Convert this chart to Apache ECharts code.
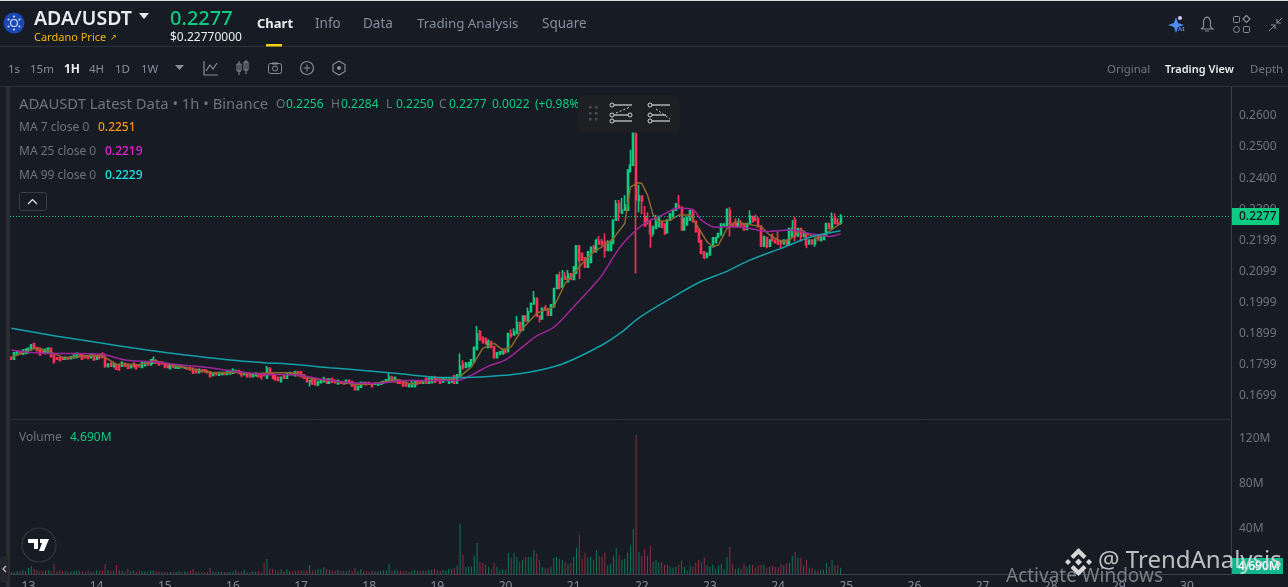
<!DOCTYPE html>
<html><head><meta charset="utf-8">
<style>html,body{margin:0;padding:0;background:#171B24;overflow:hidden}#c{width:1288px;height:587px}</style>
<script src="https://cdn.jsdelivr.net/npm/echarts@6/dist/echarts.min.js"></script>
</head><body><div id="c"></div>
<script>
// one row per hour: open, close, low, high
const candles = [
[.1823,.1817,.1815,.1825],[.1817,.1838,.1816,.1840],[.1831,.1841,.1830,.1843],[.1841,.1834,.1832,.1843],[.1833,.1847,.1832,.1849],
[.1836,.1849,.1835,.1851],[.1838,.1852,.1837,.1855],[.1847,.1863,.1846,.1866],[.1868,.1852,.1851,.1869],[.1855,.1845,.1843,.1856],
[.1852,.1831,.1830,.1853],[.1845,.1838,.1836,.1846],[.1836,.1849,.1834,.1850],[.1839,.1852,.1838,.1856],[.1852,.1825,.1824,.1853],
[.1831,.1809,.1803,.1832],[.1822,.1817,.1815,.1823],[.1823,.1813,.1810,.1824],[.1822,.1817,.1816,.1823],[.1817,.1823,.1816,.1824],
[.1823,.1818,.1817,.1824],[.1819,.1825,.1818,.1826],[.1822,.1831,.1821,.1832],[.1823,.1836,.1822,.1838],[.1833,.1825,.1824,.1835],
[.1833,.1817,.1816,.1834],[.1828,.1822,.1820,.1830],[.1828,.1820,.1818,.1830],[.1822,.1831,.1821,.1833],[.1831,.1815,.1814,.1832],
[.1817,.1828,.1816,.1829],[.1831,.1820,.1819,.1833],[.1834,.1823,.1822,.1840],[.1823,.1793,.1792,.1836],[.1793,.1802,.1791,.1804],
[.1804,.1795,.1793,.1806],[.1793,.1802,.1792,.1806],[.1799,.1785,.1784,.1801],[.1799,.1783,.1782,.1804],[.1795,.1806,.1794,.1811],
[.1804,.1795,.1794,.1806],[.1802,.1788,.1786,.1803],[.1790,.1799,.1789,.1801],[.1804,.1793,.1792,.1806],[.1799,.1787,.1786,.1801],
[.1799,.1793,.1791,.1800],[.1791,.1806,.1790,.1808],[.1796,.1806,.1795,.1807],[.1806,.1799,.1797,.1808],[.1799,.1815,.1798,.1817],
[.1804,.1817,.1803,.1826],[.1813,.1804,.1803,.1817],[.1809,.1799,.1798,.1811],[.1808,.1802,.1801,.1809],[.1804,.1791,.1790,.1805],
[.1802,.1791,.1789,.1804],[.1787,.1798,.1786,.1800],[.1799,.1791,.1790,.1800],[.1788,.1795,.1787,.1796],[.1788,.1795,.1787,.1797],
[.1795,.1791,.1790,.1796],[.1788,.1791,.1787,.1792],[.1790,.1786,.1785,.1791],[.1790,.1783,.1782,.1792],[.1788,.1772,.1771,.1790],
[.1785,.1774,.1773,.1786],[.1774,.1785,.1773,.1787],[.1783,.1777,.1776,.1784],[.1783,.1777,.1776,.1785],[.1780,.1774,.1773,.1782],
[.1777,.1761,.1760,.1779],[.1765,.1772,.1764,.1773],[.1774,.1767,.1766,.1776],[.1766,.1774,.1765,.1775],[.1768,.1774,.1767,.1775],
[.1774,.1768,.1767,.1775],[.1768,.1777,.1767,.1778],[.1770,.1781,.1769,.1782],[.1772,.1783,.1771,.1788],[.1777,.1781,.1776,.1783],
[.1781,.1772,.1771,.1783],[.1777,.1767,.1759,.1779],[.1767,.1774,.1766,.1776],[.1772,.1761,.1760,.1774],[.1770,.1761,.1760,.1771],
[.1761,.1770,.1760,.1771],[.1764,.1772,.1763,.1775],[.1767,.1761,.1760,.1769],[.1767,.1759,.1751,.1769],[.1770,.1764,.1763,.1772],
[.1756,.1788,.1755,.1796],[.1788,.1767,.1766,.1791],[.1772,.1756,.1753,.1774],[.1764,.1751,.1750,.1766],[.1759,.1749,.1748,.1760],
[.1745,.1759,.1744,.1760],[.1767,.1756,.1755,.1768],[.1756,.1772,.1755,.1774],[.1767,.1774,.1766,.1776],[.1772,.1767,.1766,.1775],
[.1764,.1777,.1763,.1780],[.1777,.1764,.1763,.1779],[.1777,.1761,.1760,.1779],[.1767,.1756,.1755,.1768],[.1756,.1745,.1744,.1758],
[.1745,.1748,.1729,.1751],[.1753,.1738,.1737,.1755],[.1751,.1735,.1734,.1753],[.1735,.1745,.1730,.1746],[.1742,.1751,.1741,.1753],
[.1745,.1756,.1744,.1761],[.1753,.1740,.1739,.1755],[.1740,.1753,.1739,.1754],[.1753,.1743,.1742,.1758],[.1749,.1742,.1741,.1750],
[.1738,.1749,.1737,.1751],[.1745,.1740,.1738,.1747],[.1744,.1738,.1736,.1745],[.1740,.1749,.1739,.1750],[.1749,.1742,.1741,.1751],
[.1745,.1731,.1730,.1747],[.1735,.1719,.1717,.1740],[.1719,.1729,.1718,.1730],[.1727,.1743,.1726,.1745],[.1738,.1742,.1737,.1743],
[.1742,.1735,.1734,.1744],[.1742,.1737,.1736,.1743],[.1738,.1729,.1728,.1739],[.1737,.1740,.1736,.1741],[.1734,.1740,.1733,.1741],
[.1737,.1743,.1736,.1745],[.1740,.1745,.1739,.1747],[.1743,.1751,.1742,.1752],[.1745,.1759,.1744,.1772],[.1759,.1745,.1744,.1764],
[.1745,.1759,.1744,.1760],[.1751,.1740,.1739,.1753],[.1749,.1740,.1739,.1751],[.1745,.1731,.1730,.1747],[.1743,.1731,.1730,.1745],
[.1729,.1735,.1728,.1736],[.1729,.1740,.1728,.1751],[.1729,.1747,.1728,.1749],[.1747,.1737,.1736,.1748],[.1745,.1740,.1738,.1747],
[.1740,.1745,.1739,.1746],[.1756,.1740,.1739,.1758],[.1740,.1756,.1739,.1758],[.1742,.1759,.1741,.1760],[.1759,.1743,.1742,.1764],
[.1756,.1749,.1748,.1758],[.1753,.1740,.1739,.1755],[.1743,.1756,.1742,.1758],[.1749,.1753,.1748,.1755],[.1740,.1753,.1739,.1755],
[.1743,.1756,.1742,.1758],[.1764,.1740,.1739,.1766],[.1740,.1767,.1739,.1769],[.1761,.1795,.1760,.1836],[.1802,.1790,.1783,.1814],
[.1791,.1804,.1790,.1808],[.1793,.1806,.1792,.1808],[.1795,.1815,.1794,.1816],[.1809,.1855,.1808,.1859],[.1849,.1900,.1848,.1924],
[.1906,.1879,.1877,.1911],[.1888,.1870,.1868,.1890],[.1884,.1866,.1865,.1886],[.1855,.1874,.1854,.1881],[.1874,.1855,.1854,.1876],
[.1857,.1822,.1821,.1860],[.1822,.1838,.1821,.1840],[.1834,.1841,.1830,.1843],[.1834,.1849,.1833,.1851],[.1849,.1838,.1836,.1850],
[.1841,.1900,.1840,.1902],[.1898,.1892,.1884,.1913],[.1895,.1906,.1894,.1917],[.1900,.1935,.1899,.1957],[.1935,.1909,.1908,.1937],
[.1911,.1956,.1910,.1958],[.1956,.1940,.1938,.1958],[.1940,.1970,.1938,.1984],[.1970,.1997,.1969,.1999],[.1995,.2013,.1994,.2037],
[.2013,.1956,.1955,.2015],[.1956,.1947,.1935,.1958],[.1947,.1981,.1946,.1983],[.1983,.1976,.1975,.1992],[.1979,.1959,.1958,.1981],
[.1959,.1992,.1958,.1994],[.1986,.2045,.1985,.2047],[.2045,.2088,.2044,.2090],[.2086,.2045,.2044,.2099],[.2049,.2078,.2048,.2104],
[.2083,.2075,.2074,.2099],[.2067,.2091,.2066,.2104],[.2092,.2074,.2073,.2094],[.2074,.2115,.2073,.2117],[.2094,.2182,.2093,.2184],
[.2182,.2136,.2075,.2184],[.2158,.2136,.2135,.2160],[.2144,.2113,.2112,.2146],[.2113,.2163,.2112,.2165],[.2129,.2177,.2128,.2179],
[.2177,.2163,.2162,.2185],[.2163,.2199,.2162,.2205],[.2196,.2188,.2187,.2214],[.2196,.2185,.2184,.2205],[.2194,.2167,.2144,.2222],
[.2167,.2192,.2166,.2200],[.2167,.2194,.2166,.2196],[.2190,.2265,.2189,.2267],[.2265,.2317,.2264,.2330],[.2319,.2292,.2261,.2330],
[.2287,.2297,.2286,.2336],[.2297,.2313,.2296,.2345],[.2297,.2426,.2296,.2428],[.2421,.2442,.2420,.2491],[.2442,.2544,.2441,.2547],
[.2542,.2330,.2093,.2547],[.2327,.2342,.2290,.2378],[.2342,.2327,.2284,.2344],[.2276,.2246,.2245,.2310],[.2271,.2257,.2250,.2290],
[.2260,.2222,.2176,.2262],[.2222,.2244,.2212,.2246],[.2238,.2260,.2237,.2281],[.2244,.2276,.2243,.2278],[.2260,.2242,.2240,.2262],
[.2252,.2222,.2217,.2254],[.2224,.2265,.2223,.2267],[.2265,.2285,.2264,.2287],[.2276,.2299,.2275,.2301],[.2297,.2317,.2296,.2319],
[.2310,.2306,.2304,.2346],[.2306,.2233,.2232,.2308],[.2233,.2271,.2232,.2273],[.2249,.2274,.2248,.2276],[.2265,.2295,.2264,.2297],
[.2289,.2260,.2259,.2299],[.2260,.2228,.2227,.2262],[.2235,.2195,.2194,.2237],[.2199,.2158,.2157,.2201],[.2163,.2145,.2139,.2165],
[.2145,.2158,.2144,.2160],[.2153,.2179,.2152,.2181],[.2179,.2208,.2178,.2210],[.2192,.2209,.2191,.2211],[.2209,.2222,.2208,.2224],
[.2217,.2252,.2216,.2254],[.2246,.2252,.2245,.2254],[.2246,.2299,.2245,.2303],[.2295,.2244,.2212,.2306],[.2254,.2244,.2243,.2256],
[.2254,.2244,.2243,.2271],[.2244,.2254,.2243,.2271],[.2254,.2246,.2245,.2265],[.2254,.2233,.2232,.2256],[.2235,.2254,.2234,.2256],
[.2254,.2278,.2253,.2297],[.2276,.2260,.2259,.2278],[.2274,.2265,.2264,.2283],[.2271,.2244,.2243,.2273],[.2246,.2181,.2180,.2248],
[.2181,.2212,.2180,.2214],[.2209,.2179,.2174,.2211],[.2181,.2201,.2180,.2203],[.2217,.2199,.2198,.2222],[.2201,.2192,.2191,.2203],
[.2201,.2188,.2187,.2228],[.2199,.2190,.2174,.2201],[.2188,.2201,.2187,.2203],[.2201,.2185,.2184,.2203],[.2185,.2238,.2184,.2240],
[.2212,.2238,.2211,.2265],[.2265,.2212,.2197,.2276],[.2214,.2238,.2213,.2240],[.2238,.2212,.2195,.2240],[.2212,.2228,.2211,.2230],
[.2222,.2185,.2174,.2224],[.2188,.2201,.2187,.2203],[.2201,.2188,.2187,.2203],[.2188,.2203,.2179,.2205],[.2217,.2201,.2200,.2219],
[.2199,.2217,.2198,.2219],[.2203,.2220,.2202,.2222],[.2217,.2254,.2216,.2256],[.2254,.2238,.2237,.2256],[.2238,.2268,.2237,.2289],
[.2271,.2254,.2253,.2287],[.2257,.2252,.2250,.2271],[.2256,.2277,.2250,.2284]
];
// hourly volume in millions, one value per candle
const volumes = [
1.8,1.8,2.4,2.4,3.2,2.6,5.2,7.1,4.4,3.6, 2.6,2.4,2.8,3.6,2.8,8.8,2.2,3.2,2.4,2.4,
1.8,2.2,2.4,2.8,2.8,2.2,1.8,3.2,2.2,1.8, 2.8,2.4,3.2,8.8,3.6,2.8,3.2,7.9,3.6,2.6,
1.8,4.4,2.6,3.2,1.8,3.2,2.6,2.2,2.2,2.6, 3.2,2.2,2.0,2.0,2.0,1.8,1.8,2.0,2.0,2.8,
1.8,2.2,2.0,2.8,4.4,2.2,1.5,1.8,1.8,1.8, 5.6,2.0,2.0,2.0,1.8,1.8,1.8,2.0,2.0,3.8,
1.5,2.2,3.6,1.5,1.5,2.4,2.0,2.6,1.8,10.0, 13.2,4.4,4.6,3.8,2.4,4.4,2.4,4.2,2.4,2.4,
2.6,3.2,3.0,2.6,3.4,7.9,3.2,3.6,4.2,4.2, 6.0,4.4,3.6,3.2,2.9,3.8,2.6,2.6,2.4,3.8,
2.9,5.6,2.4,4.4,2.2,2.4,1.8,2.6,2.4,2.2, 2.4,3.2,3.4,8.8,2.6,3.8,3.0,2.9,2.9,2.9,
1.8,2.9,3.5,2.9,2.9,2.9,2.9,3.8,3.8,4.7, 3.8,2.9,3.8,2.9,4.7,4.7,5.6,7.4,44.1,17.1,
6.5,6.5,6.5,16.2,27.3,10.9,10.0,8.2,6.5,4.7, 10.0,6.5,3.8,4.7,3.8,18.8,14.4,18.8,15.3,10.9,
12.6,15.3,15.3,15.3,21.5,17.9,12.6,6.5,5.6,5.6, 6.5,14.4,15.3,13.5,12.6,10.9,9.1,10.0,15.3,23.2,
34.7,13.5,18.8,14.4,15.3,12.6,21.5,16.2,15.3,18.8, 7.4,9.1,16.2,23.2,17.1,12.6,13.5,18.8,25.0,40.0,
122.9,19.7,16.2,22.3,16.2,25.0,10.9,12.6,10.0,10.9, 8.2,8.2,6.5,5.6,6.5,8.2,11.8,6.5,2.9,7.4,
6.5,10.0,12.6,10.9,14.4,8.2,6.5,8.2,4.7,7.4, 9.1,4.7,15.3,24.1,9.1,4.7,5.6,4.7,9.1,6.5,
8.2,8.2,5.6,7.4,8.2,8.2,5.6,6.5,7.4,6.5, 6.5,9.1,7.4,9.1,10.0,16.2,19.7,14.4,14.4,7.4,
12.6,5.6,5.6,3.8,2.9,3.8,3.8,10.0,6.5,12.6, 7.4,8.2,5.6
];
// moving averages read at selected hours: [hour index, value]
const ma7Points = [[0,.1823],[8,.1852],[11,.1849],[15,.1836],[19,.1820],[25,.1828],[32,.1828],[37,.1801],[45,.1799],[50,.1813],[59,.1793],[66,.1781],[72,.1772],[80,.1775],[84,.1770],[91,.1774],[100,.1774],[105,.1756],[115,.1745],[122,.1735],[129,.1740],[136,.1751],[141,.1737],[147,.1749],[154,.1751],[158,.1761],[162,.1793],[166,.1852],[170,.1868],[173,.1847],[176,.1857],[180,.1916],[185,.1965],[191,.1986],[195,.2061],[200,.2115],[205,.2163],[208,.2179],[212,.2206],[216,.2254],[218,.2372],[221,.2385],[222,.2383],[224,.2346],[226,.2281],[228,.2260],[232,.2265],[235,.2281],[239,.2281],[241,.2254],[245,.2195],[247,.2179],[249,.2185],[252,.2238],[255,.2260],[259,.2252],[264,.2244],[267,.2217],[271,.2195],[274,.2201],[278,.2233],[281,.2217],[284,.2206],[287,.2222],[292,.2254]];
const ma25Points = [[0,.1847],[7,.1839],[14,.1836],[23,.1836],[32,.1833],[40,.1815],[50,.1809],[60,.1799],[70,.1790],[77,.1780],[89,.1769],[100,.1767],[112,.1749],[124,.1740],[130,.1740],[138,.1749],[147,.1749],[157,.1749],[162,.1766],[168,.1795],[174,.1815],[180,.1857],[185,.1892],[191,.1920],[198,.1986],[204,.2045],[208,.2088],[214,.2174],[220,.2233],[224,.2260],[228,.2276],[235,.2303],[240,.2299],[243,.2265],[248,.2242],[253,.2244],[260,.2238],[266,.2228],[274,.2233],[282,.2220],[288,.2212],[292,.2220]];
const ma99Points = [[0,.1917],[15,.1893],[31,.1870],[43,.1853],[55,.1838],[66,.1826],[77,.1815],[88,.1807],[100,.1800],[112,.1790],[124,.1781],[136,.1771],[147,.1761],[154,.1758],[165,.1760],[180,.1772],[194,.1802],[208,.1863],[215,.1905],[221,.1950],[232,.2012],[243,.2068],[252,.2100],[260,.2136],[271,.2174],[282,.2212],[292,.2231]];
const dayLabels = ['13','14','15','16','17','18','19','20','21','22','23','24','25','26','27','28','29','30'];
const priceTicks = [0.26,0.25,0.24,0.23,0.2199,0.2099,0.1999,0.1899,0.1799,0.1699];
const volumeTicks = [40,80,120];
const lastPrice = 0.2277;
const hourSlots = 430, hoursToFirstDay = 6, hoursPerDay = 24;

const UP='#0ECB81', DOWN='#FF3355', BG='#171B24', LINE='#2B3139', MUTED='#848E9C';
const categories = Array.from({length:hourSlots},(_, i)=>{
  const d=(i-hoursToFirstDay)/hoursPerDay;
  return (Number.isInteger(d)&&dayLabels[d])?dayLabels[d]:'';
});
const F='"Noto Sans",Roboto,sans-serif';
const g=[];
function T(x,y,text,size,fill,weight,align,family,z){g.push({type:'text',z:z||100,silent:true,style:{x,y:y+2,text,fill,fontSize:size,fontWeight:weight||400,fontFamily:family||F,textAlign:align||'left',textVerticalAlign:'middle'}});}
function L(x1,y1,x2,y2,c,w,dash){g.push({type:'line',z:100,silent:true,shape:{x1,y1,x2,y2},style:{stroke:c,lineWidth:w||1,lineDash:dash}});}
function R(x,y,w,h,fill,r,stroke,op){g.push({type:'rect',z:100,silent:true,shape:{x,y,width:w,height:h,r:r||0},style:{fill:fill||'none',stroke:stroke||'none',opacity:op==null?1:op}});}
function C(cx,cy,r,fill,stroke,lw){g.push({type:'circle',z:100,silent:true,shape:{cx,cy,r},style:{fill:fill||'none',stroke:stroke||'none',lineWidth:lw||1}});}
function P(points,fill,stroke,z){g.push({type:stroke&&!fill?'polyline':'polygon',z:z||100,silent:true,shape:{points},style:{fill:fill||'none',stroke:stroke||'none',lineWidth:1.2}});}

// frame
R(0,0,1288,1,'#d8dadd');
L(0,46.5,1288,46.5,LINE); L(0,86.5,1288,86.5,LINE);
R(6,87,4,500,'#2c2d30');
L(10,419.5,1231,419.5,LINE);
// logo
C(14,23,10.5,'#1b47b5'); C(14,23,3.5,null,'#cfe0ff',1.2);
[[14,16.5],[14,29.5],[8.5,19.5],[19.5,19.5],[8.5,26.5],[19.5,26.5]].forEach(p=>C(p[0],p[1],1,'#dfe9ff'));
// header
T(34,17.5,'ADA/USDT',19.5,'#EAECEF',600);
P([[139,13],[149,13],[144,19]],'#EAECEF');
T(34,35.5,'Cardano Price',11,'#F0B90B');
T(110,35.5,'↗',8,'#F0B90B');
T(170,17.5,'0.2277',20,UP,500);
T(170,36,'$0.22770000',12,'#EAECEF');
T(257,22.5,'Chart',13,'#EAECEF',700);
R(266,44,16,2.5,'#F0D000');
T(315,22.5,'Info',13.5,MUTED); T(363,22.5,'Data',13.5,MUTED); T(417,22.5,'Trading Analysis',13.3,MUTED); T(542,22.5,'Square',13.5,MUTED);
// header right icons
P([[1168,25],[1174,23],[1176,17],[1178,23],[1184,25],[1178,27],[1176,33],[1174,27]],'#4c8df6');
C(1180,18,2,'#d9c8ff'); T(1178,27,'AI',6,'#4c8df6',700);
P([[1201,29],[1203.5,27],[1203.5,21],[1205,18],[1207,17],[1209,18],[1210.5,21],[1210.5,27],[1213,29],[1201,29]],null,MUTED);
L(1205,31,1209,31,MUTED);
R(1233.5,16.5,6,6,null,1,MUTED); R(1243.5,26.5,6,6,null,1,MUTED); C(1236.5,29.5,3,null,MUTED);
P([[1246.5,15.5],[1250,19],[1246.5,22.5],[1243,19],[1246.5,15.5]],null,MUTED);
L(1269,31,1275,25,MUTED); P([[1271,25],[1275,25],[1275,29]],null,MUTED);
L(1282,18,1277,23,MUTED); P([[1277,19],[1277,23],[1281,23]],null,MUTED);
// toolbar
const tbY=67.5;
T(8,tbY,'1s',11.5,MUTED); T(30,tbY,'15m',11.5,MUTED); T(64,tbY,'1H',12,'#EAECEF',700); T(89,tbY,'4H',11.5,MUTED); T(115,tbY,'1D',11.5,MUTED); T(141,tbY,'1W',11.5,MUTED);
P([[175,65],[184,65],[179.5,70]],MUTED);
P([[204,61],[204,75],[218,75]],null,MUTED); P([[206,71],[210,65],[213,69],[217,63]],null,MUTED);
L(239,61,239,75,MUTED); R(237,64,4,7,null,0,MUTED); L(246,60,246,74,MUTED); R(244,62,4,8,null,0,MUTED);
R(268.5,63.5,13,10,null,2,MUTED); C(275,68.5,2.5,null,MUTED); L(272,63.5,278,63.5,MUTED,2);
C(307,68,6.5,null,MUTED,1.2); L(303.5,68,310.5,68,MUTED); L(307,64.5,307,71.5,MUTED);
P([[339,61],[345,64.5],[345,71.5],[339,75],[333,71.5],[333,64.5],[339,61]],null,MUTED); C(339,68,2,MUTED);
T(1107,67.5,'Original',11.5,'#6f7782'); T(1165,67.5,'Trading View',11,'#EAECEF',600); T(1250,67.5,'Depth',11.5,'#6f7782');
// legend
const legendGrey='#6d7480';
T(19,103,'ADAUSDT Latest Data • 1h • Binance',14.8,legendGrey);
const legY=103;
[['O',276,'0.2256'],['H',331,'0.2284'],['L',386,'0.2250'],['C',439,'0.2277']].forEach(a=>{T(a[1],legY,a[0],12,legendGrey);T(a[1]+10,legY,a[2],12,UP);});
T(492,legY,'0.0022',12,UP); T(535,legY,'(+0.98%',12,UP);
T(19,126,'MA 7 close 0',12,legendGrey); T(98,126,'0.2251',12,'#F7931A',500);
T(19,150,'MA 25 close 0',12,legendGrey); T(105,150,'0.2219',12,'#EA24D0',500);
T(19,174,'MA 99 close 0',12,legendGrey); T(105,174,'0.2229',12,'#18E6E6',500);
R(19.5,192.5,27,18,null,2,'#3a3f47');
P([[28,204],[32.5,199.5],[37,204]],null,'#EAECEF');
// drawing tools overlay
R(578,95,102,37,'#1E1F23',6);
[[590,107],[596,107],[590,113],[596,113],[590,119],[596,119]].forEach(p=>R(p[0]-1,p[1]-1,2.5,2.5,'#4a4c52'));
[[0,-1],[38,1]].forEach(a=>{const x=a[0];
 C(612+x,105,2,null,'#d5d5d5'); L(614+x,105,632+x,105,'#d5d5d5',1.2);
 C(612+x,115,2,null,'#d5d5d5'); L(614+x,115,628+x,115,'#d5d5d5',1.2);
 C(612+x,121,2,null,'#d5d5d5'); L(614+x,121,632+x,121,'#d5d5d5',1.2);
});
L(616,113,630,107,'#cccccc',1,[2,2]); C(630,115,2,null,'#d5d5d5');
L(656,109,670,119,'#cccccc',1,[2,2]);
// volume legend and axis tags
T(19,435.5,'Volume',12,legendGrey); T(70,435.5,'4.690M',12,UP);
R(1232,208,47,17,UP);
T(1239,215,'0.2277',12,'#111418',500);
R(1232,558,51,16,'#12B58E');
T(1238,564.5,'4.690M',12,'#ffffff',600);
// TV logo
C(39,545,17,null,'#33363d',1.2);
P([[28,539],[38,539],[38,549],[34,549],[34,543],[28,543]],'#fff');
P([[40,539],[49,539],[44,551],[39,551],[42,543],[40,543]],'#fff');
// collapse handle
R(0,556,8,27,'#23262c',4);
P([[6,566],[3,569],[6,572]],null,'#c8c8c8');
// watermarks
const wc=[1078.5,562];
const wm=(pts)=>P(pts.map(p=>[wc[0]+p[0],wc[1]+p[1]]),'#d6d6d6',null,110);
wm([[0,-14],[8,-6],[5,-3],[0,-8],[-5,-3],[-8,-6]]);
wm([[0,14],[8,6],[5,3],[0,8],[-5,3],[-8,6]]);
wm([[-13.5,0],[-10.5,-3],[-7.5,0],[-10.5,3]]);
wm([[13.5,0],[10.5,-3],[7.5,0],[10.5,3]]);
wm([[0,-3.5],[3.5,0],[0,3.5],[-3.5,0]]);
T(1006,574.5,'Activate Windows',19,'#7c7f85');
T(1098,559,'@ TrendAnalysis',24,'rgba(220,220,220,.85)',400,'left',F,110);

const chart=echarts.init(document.getElementById('c'),null,{renderer:'canvas'});
const maLine=(name,data,color,smooth)=>({name,type:'line',data,xAxisIndex:0,yAxisIndex:0,showSymbol:false,silent:true,z:4,smooth:smooth||false,lineStyle:{color,width:1.5},itemStyle:{color}});
chart.setOption({
  animation:false, backgroundColor:BG,
  grid:[{left:10,right:57,top:87,height:332,outerBoundsMode:'none'},{left:10,right:57,top:420,height:154,outerBoundsMode:'none'}],
  xAxis:[
    {type:'category',gridIndex:0,data:categories,boundaryGap:true,axisLine:{show:false},axisTick:{show:false},axisLabel:{show:false},splitLine:{show:false}},
    {type:'category',gridIndex:1,data:categories,boundaryGap:true,axisLine:{lineStyle:{color:'#3a424d'}},axisTick:{show:false},
     axisLabel:{interval:(i,v)=>v!=='',color:MUTED,fontSize:12,fontFamily:F,margin:7,hideOverlap:false},splitLine:{show:false}}
  ],
  yAxis:[
    {type:'value',gridIndex:0,position:'right',min:0.16248,max:0.26933,scale:true,splitLine:{show:false},axisTick:{show:false},
     axisLine:{show:true,lineStyle:{color:'#3a424d'}},axisLabel:{customValues:priceTicks,formatter:v=>v.toFixed(4),color:'#6d7480',fontSize:12,fontFamily:F,margin:8,padding:[2,0,0,0]}},
    {type:'value',gridIndex:1,position:'right',min:0,max:136,splitLine:{show:false},axisTick:{show:false},
     axisLine:{show:true,lineStyle:{color:'#3a424d'}},axisLabel:{customValues:volumeTicks,formatter:v=>v+'M',color:'#6d7480',fontSize:12,fontFamily:F,margin:8}}
  ],
  series:[
    {name:'ADAUSDT',type:'candlestick',data:candles,xAxisIndex:0,yAxisIndex:0,barWidth:1.5,silent:true,z:3,
     itemStyle:{color:UP,color0:DOWN,borderColor:UP,borderColor0:DOWN,borderWidth:1.6},
     markLine:{silent:true,symbol:'none',animation:false,precision:4,label:{show:false},lineStyle:{color:UP,type:[1,2],width:1,opacity:1},data:[{yAxis:lastPrice}]}},
    maLine('MA 7',ma7Points,'#8c6a2c'),
    maLine('MA 25',ma25Points,'#a0259a',0.3),
    maLine('MA 99',ma99Points,'#12a0a8',0.3),
    {name:'Volume',type:'bar',xAxisIndex:1,yAxisIndex:1,barWidth:1,silent:true,
     data:volumes.map((v,i)=>({value:v,itemStyle:{color:candles[i][1]>=candles[i][0]?'#0a7a5c':'#8e2f3f'}}))}
  ],
  graphic:{elements:g}
});
</script></body></html>
